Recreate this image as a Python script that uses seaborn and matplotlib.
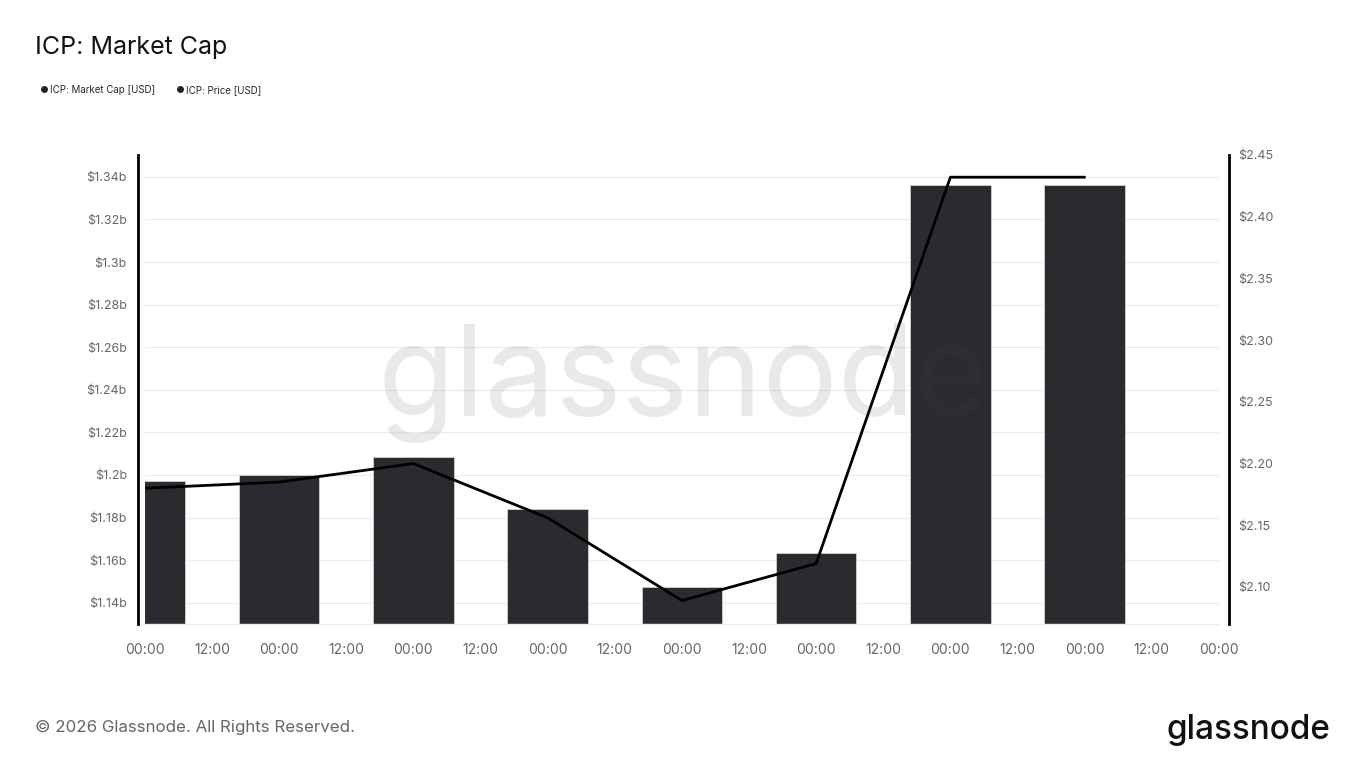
import matplotlib
matplotlib.use("Agg")
import matplotlib.pyplot as plt
import matplotlib.dates as mdates
from matplotlib.lines import Line2D
import seaborn as sns
import pandas as pd

# daily values at 00:00
dates = ["2026-01-20", "2026-01-21", "2026-01-22", "2026-01-23",
         "2026-01-24", "2026-01-25", "2026-01-26", "2026-01-27"]
market_cap_b = [1.1973, 1.2001, 1.2085, 1.1841, 1.1475, 1.1635, 1.3362, 1.3362]
price_usd = [2.180, 2.185, 2.200, 2.156, 2.089, 2.119, 2.432, 2.432]

left_ticks = [1.14, 1.16, 1.18, 1.20, 1.22, 1.24, 1.26, 1.28, 1.30, 1.32, 1.34]
right_ticks = [2.10, 2.15, 2.20, 2.25, 2.30, 2.35, 2.40, 2.45]

x = mdates.date2num(pd.to_datetime(dates))
df = pd.DataFrame({"x": x, "cap": market_cap_b, "price": price_usd})

sns.set_theme(style="white")
plt.rcParams["font.family"] = ["Inter", "DejaVu Sans"]

fig = plt.figure(figsize=(13.66, 7.68), dpi=100)
ax = fig.add_axes([0.1061, 0.1875, 0.7862, 0.6107])

sns.barplot(data=df, x="x", y="cap", native_scale=True, width=0.6,
            color="#2a2b2f", edgecolor="#d0d0d0", linewidth=0.6,
            saturation=1, ax=ax, zorder=2)

ax.set_xlim(x[0], x[0] + 8)
ax.set_ylim(1.13, 1.3503)
ax.set_yticks(left_ticks)
ax.set_yticklabels(["$%gb" % v for v in left_ticks])
ax.yaxis.grid(True, color="#eeeef2", linewidth=1)
ax.xaxis.grid(False)
ax.set_xlabel("")
ax.set_ylabel("")

ax.xaxis.set_major_locator(mdates.HourLocator(byhour=[0, 12]))
ax.xaxis.set_major_formatter(mdates.DateFormatter("%H:%M"))
ax.tick_params(axis="x", length=7, width=1, color="#e4e4e8", colors="#666666",
               labelsize=10, pad=7)
ax.tick_params(axis="x", color="#e4e4e8")
ax.tick_params(axis="y", length=0, labelsize=9, colors="#666666", pad=8)

for s in ["top", "right"]:
    ax.spines[s].set_visible(False)
ax.spines["bottom"].set_color("#eeeef2")
ax.spines["bottom"].set_linewidth(1)
ax.spines["left"].set_color("black")
ax.spines["left"].set_linewidth(2)
ax.spines["left"].set_position(("outward", 5))

ax2 = ax.twinx()
sns.lineplot(data=df, x="x", y="price", color="black", linewidth=2, ax=ax2)
ax2.set_ylim(2.07, 2.45)
ax2.set_yticks(right_ticks)
ax2.set_yticklabels(["$%.2f" % v for v in right_ticks])
ax2.set_xlim(x[0], x[0] + 8)
ax2.set_ylabel("")
ax2.set_xlabel("")
ax2.grid(False)
ax2.tick_params(axis="y", length=0, labelsize=9, colors="#666666", pad=7)
for s in ["top", "left", "bottom"]:
    ax2.spines[s].set_visible(False)
ax2.spines["right"].set_color("black")
ax2.spines["right"].set_linewidth(2)
ax2.spines["right"].set_position(("outward", 7))

# semi-transparent watermark over the plot
fig.text(0.5, 0.501, "glassnode", fontsize=90.5, color="#4a4a4a", alpha=0.12,
         ha="center", va="center", zorder=10)

fig.text(0.0256, 0.938, "ICP: Market Cap", fontsize=18, color="#111111",
         ha="left", va="center")

handles = [Line2D([], [], marker="o", linestyle="", color="#222222", markersize=4),
           Line2D([], [], marker="o", linestyle="", color="#222222", markersize=4)]
fig.legend(handles, ["ICP: Market Cap [USD]", "ICP: Price [USD]"],
           loc="center left", bbox_to_anchor=(0.024, 0.883), ncol=2,
           frameon=False, fontsize=7, handlelength=0.6, handletextpad=0.3,
           columnspacing=2.2)

fig.text(0.0256, 0.053, "\u00a9 2026 Glassnode. All Rights Reserved.",
         fontsize=12.2, color="#666666", ha="left", va="center")
fig.text(0.974, 0.05, "glassnode", fontsize=24, color="#111111",
         ha="right", va="center", fontweight="medium")

fig.savefig("out.png", dpi=100)
